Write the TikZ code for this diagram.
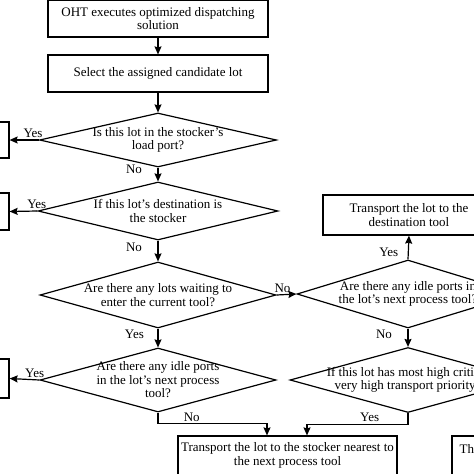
\documentclass[tikz,border=0pt]{standalone}
\usepackage{fontspec}
\setmainfont{Liberation Serif}
\usetikzlibrary{arrows.meta,shapes.geometric,calc}
\tikzset{
  >={Stealth[length=8pt,width=7pt,inset=1pt]},
  bx/.style={rectangle,draw,minimum height=37,inner sep=0pt,align=center},
  dia/.style={diamond,draw,inner sep=0pt,minimum width=237,minimum height=56},
  lbl/.style={align=center,inner sep=0pt},
  yn/.style={inner sep=1.5pt},
  every picture/.style={line width=1.2pt},
}

\begin{document}
\begin{tikzpicture}[x=1pt,y=-1pt,font=\fontsize{13}{13.5}\selectfont]
\useasboundingbox (0,0) rectangle (474,474); \clip (0,0) rectangle (474,474);
\node[bx,minimum width=220] (b1) at (158,18.5){OHT executes optimized dispatching\\solution};
\node[bx,minimum width=220] (b2) at (158,73.5){Select the assigned candidate lot};
\node[dia,minimum height=54,label={[lbl]center:Is this lot in the stocker’s\\load port?}] (d1) at (158,140){};
\node[dia,minimum width=240,minimum height=58,label={[lbl]center:If this lot’s destination is\\the stocker}] (d2) at (158,211){};
\node[dia,minimum width=236,minimum height=66,label={[lbl]center:Are there any lots waiting to\\enter the current tool?}] (d3) at (158,295){};
\node[dia,minimum width=236,minimum height=64,label={[lbl]center:Are there any idle ports\\in the lot’s next process\\tool?}] (d4) at (158,380){};
\node[dia,minimum width=222,minimum height=68,label={[lbl]center:Are there any idle ports in\\the lot’s next process tool?}] (d5) at (408,294){};
\node[dia,minimum width=236,minimum height=65,label={[lbl]center:If this lot has most high critical\\very high transport priority?}] (d6) at (408,380){};
\node[bx,minimum width=30,minimum height=36] (l1) at (-6,140){};
\node[bx,minimum width=30] (l2) at (-6,211.5){};
\node[bx,minimum width=30,minimum height=39] (l3) at (-6,378.5){};
\node[bx,minimum width=172,minimum height=40] (rt) at (409,215){Transport the lot to the\\destination tool};
\node[bx,minimum width=219,minimum height=39] (bb) at (287.5,455.5){Transport the lot to the stocker nearest to\\the next process tool};
\node[bx,minimum width=219,minimum height=39] (br) at (561.5,455.5){};
\node[lbl,anchor=west] (th) at (459,449){Th};
\coordinate (nb) at ($(bb.north)+(-20.5,0)$); \coordinate (yb) at ($(bb.north)+(19.5,0)$);
\draw[->] (b1)--(b2); \draw[->] (b2)--(d1.north);
\draw[->] (d1.west)--node[yn,above,pos=0.2]{Yes}(l1.east);
\draw[->] (d1.south)--node[yn,left=14pt,pos=0.1]{No}(d2.north);
\draw[->] (d2.west)--node[yn,above,pos=0.02]{Yes}(l2.east);
\draw[->] (d2.south)--node[yn,left=14pt,pos=0.3]{No}(d3.north);
\draw[->] (d3.east)--node[yn,above,pos=0.3]{No}(d5.west);
\draw[->] (d3.south)--node[yn,left=12pt,pos=0.3]{Yes}(d4.north);
\draw[->] (d4.west)--node[yn,above,pos=0.16]{Yes}(l3.east);
\draw[->] (d4.south)--++(0,11)-|node[yn,above,pos=0.155]{No}(nb);
\draw[->] (d5.north)--node[yn,left=8pt,pos=0.3]{Yes}(rt.south);
\draw[->] (d5.south)--node[yn,left=14pt,pos=0.3]{No}(d6.north);
\draw[->] (d6.south)--++(0,11)-|node[yn,above,pos=0.19]{Yes}(yb);
\end{tikzpicture}
\end{document}
